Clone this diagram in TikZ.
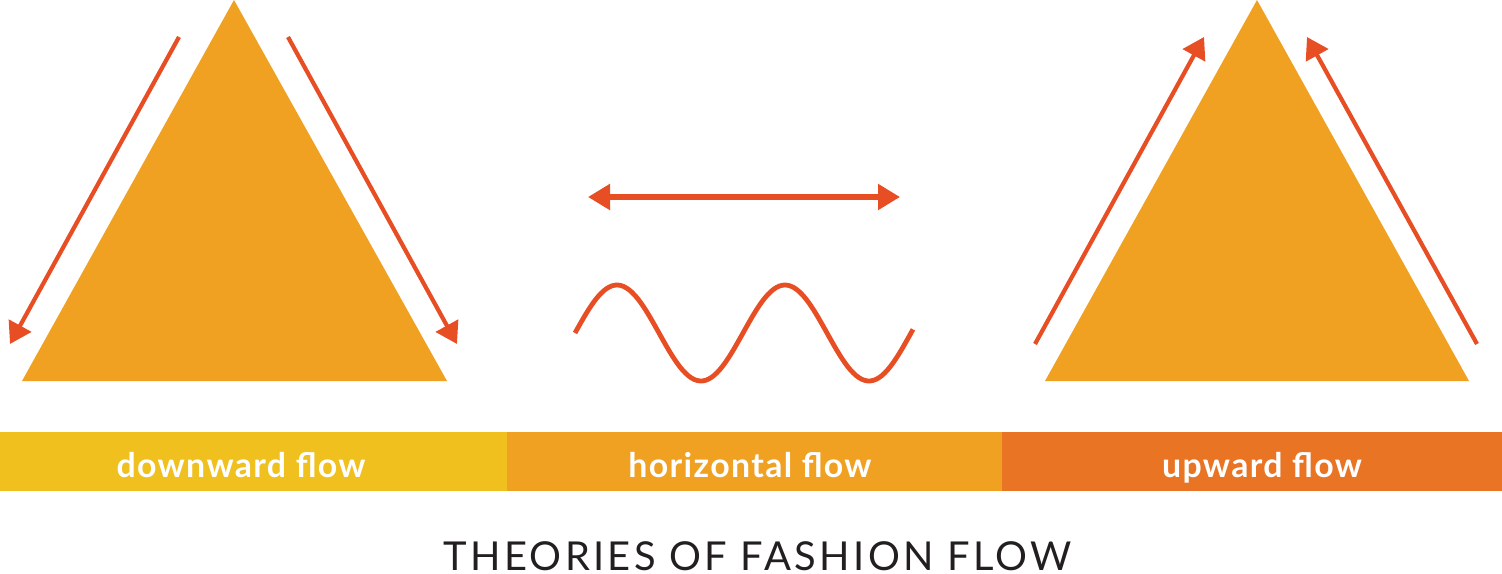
\documentclass[tikz,border=0pt]{standalone}
\usepackage{fontspec}
\setmainfont{Lato}
\newfontfamily\labelfont{Lato}[LetterSpace=4.0]
\newfontfamily\titlefont{Lato}[LetterSpace=8.4]
\usetikzlibrary{arrows.meta}
\definecolor{triorange}{HTML}{F0A121}
\definecolor{arrred}{HTML}{E84E24}
\definecolor{baryellow}{HTML}{F0C01E}
\definecolor{barmid}{HTML}{F0A122}
\definecolor{barright}{HTML}{E97524}
\definecolor{titlegray}{HTML}{231F20}
\tikzset{
  tri/.style={fill=triorange, draw=none},
  flowarrow/.style={draw=arrred, line width=4.2bp, -{Triangle[length=21bp,width=25bp]}},
  wide/.style={draw=arrred, line width=5.2bp, {Triangle[length=22bp,width=25bp]}-{Triangle[length=22bp,width=25bp]}},
  wave/.style={draw=arrred, line width=4.8bp},
  barlabel/.style={text=white, font=\labelfont\bfseries\fontsize{34}{40}\selectfont, anchor=base, inner sep=0pt},
  titlelabel/.style={text=titlegray, font=\titlefont\fontsize{40}{46}\selectfont, anchor=base, inner sep=0pt, text depth=0pt}
}
\begin{document}
\begin{tikzpicture}[x=1bp,y=-1bp]
\useasboundingbox (0,0) rectangle (1502,574);
% triangles
\fill[tri] (234,0) -- (447,381) -- (22,381) -- cycle;
\fill[tri] (1257,0) -- (1469,381) -- (1045,381) -- cycle;
% left downward arrows
\coordinate (dl1) at (179,37); \coordinate (dl2) at (10,344);
\coordinate (dr1) at (288,37); \coordinate (dr2) at (457,344);
\draw[flowarrow] (dl1) -- (dl2);
\draw[flowarrow] (dr1) -- (dr2);
% right upward arrows
\coordinate (ul1) at (1035,344); \coordinate (ul2) at (1204,37);
\coordinate (ur1) at (1477,344); \coordinate (ur2) at (1307,37);
\draw[flowarrow] (ul1) -- (ul2);
\draw[flowarrow] (ur1) -- (ur2);
% horizontal arrow
\coordinate (hl) at (588,197); \coordinate (hr) at (900,197);
\draw[wide] (hl) -- (hr);
% wave
\draw[wave] plot[domain=0:338, samples=120, smooth] ({575+\x},{333-48*sin(2.142857*\x)});
% bars
\fill[baryellow] (0,432) rectangle (507,491);
\fill[barmid] (507,432) rectangle (1002,491);
\fill[barright] (1002,432) rectangle (1502,491);
\node[barlabel] (down) at (241,477) {downward flow};
\node[barlabel] (hori) at (750,477) {horizontal flow};
\node[barlabel] (up) at (1262,477) {upward flow};
% title
\node[titlelabel] (title) at (757.5,570.5) {THEORIES OF FASHION FLOW};
\end{tikzpicture}
\end{document}
